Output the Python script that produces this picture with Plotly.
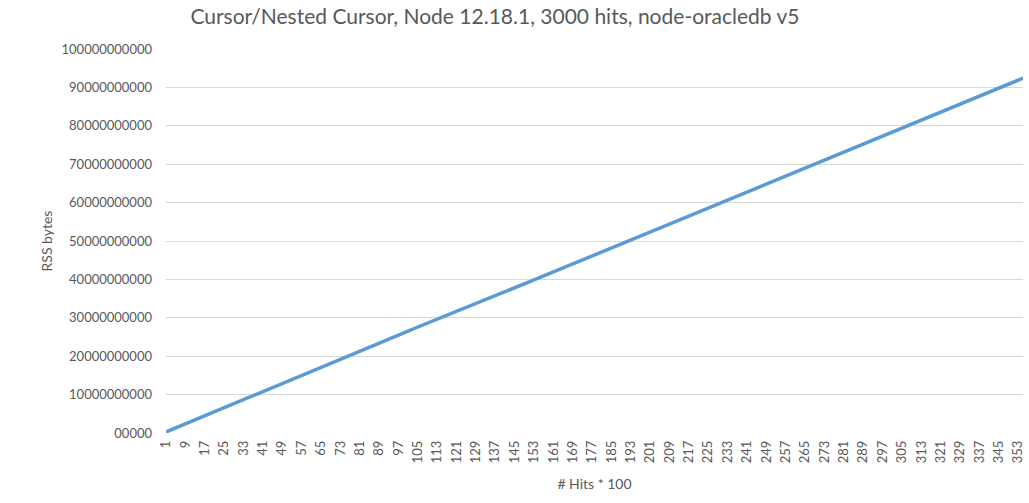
import plotly.graph_objects as go

TITLE = "Cursor/Nested Cursor, Node 12.18.1, 3000 hits, node-oracledb v5"
X_TITLE = "# Hits * 100"
Y_TITLE = "RSS bytes"

# x categories: hits / 100
hits = list(range(1, 356))

# RSS, in units of 1e9 bytes
rss_gb = [
    0.26, 0.52, 0.79, 1.05, 1.31, 1.57, 1.84, 2.10, 2.36, 2.63,
    2.89, 3.15, 3.41, 3.68, 3.94, 4.20, 4.47, 4.73, 4.99, 5.26,
    5.52, 5.78, 6.04, 6.31, 6.57, 6.83, 7.10, 7.36, 7.62, 7.88,
    8.15, 8.41, 8.67, 8.94, 9.20, 9.46, 9.72, 9.99, 10.25, 10.51,
    10.78, 11.04, 11.30, 11.56, 11.83, 12.09, 12.35, 12.62, 12.88, 13.14,
    13.41, 13.67, 13.93, 14.19, 14.46, 14.72, 14.98, 15.25, 15.51, 15.77,
    16.03, 16.30, 16.56, 16.82, 17.09, 17.35, 17.61, 17.87, 18.14, 18.40,
    18.66, 18.93, 19.19, 19.45, 19.71, 19.98, 20.24, 20.50, 20.77, 21.03,
    21.29, 21.55, 21.82, 22.08, 22.34, 22.61, 22.87, 23.13, 23.40, 23.66,
    23.92, 24.18, 24.45, 24.71, 24.97, 25.24, 25.50, 25.76, 26.02, 26.29,
    26.55, 26.81, 27.08, 27.34, 27.60, 27.72, 27.90,
    28.16, 28.42, 28.68, 28.94, 29.20, 29.46, 29.72, 29.98, 30.24, 30.50,
    30.76, 31.02, 31.28, 31.54, 31.80, 32.06, 32.32, 32.58, 32.84, 33.10,
    33.36, 33.62, 33.88, 34.14, 34.40, 34.66, 34.92, 35.18, 35.44, 35.70,
    35.96, 36.22, 36.48, 36.74, 37.00, 37.26, 37.52, 37.78, 38.04, 38.30,
    38.56, 38.82, 39.08, 39.34, 39.60, 39.86, 40.12, 40.38, 40.64, 40.91,
    41.17, 41.43, 41.69, 41.95, 42.21, 42.47, 42.73, 42.99, 43.25, 43.51,
    43.77, 44.03, 44.29, 44.55, 44.81, 45.07, 45.33, 45.59, 45.85, 46.11,
    46.37, 46.63, 46.89, 47.15, 47.41, 47.67, 47.93, 48.19, 48.45, 48.71,
    48.97, 49.23, 49.49, 49.75, 50.01, 50.27, 50.53, 50.79, 51.05, 51.31,
    51.57, 51.83, 52.09, 52.35, 52.61, 52.87, 53.13, 53.39, 53.65, 53.91,
    54.17, 54.43, 54.69, 54.95, 55.21, 55.47, 55.73, 55.99, 56.25, 56.51,
    56.77, 57.03, 57.29, 57.55, 57.81, 58.07, 58.33, 58.59, 58.85, 59.11,
    59.37, 59.63, 59.89, 60.15, 60.41, 60.67, 60.93, 61.19, 61.45, 61.71,
    61.97, 62.23, 62.49, 62.75, 63.01, 63.27, 63.53, 63.79, 64.05, 64.31,
    64.57, 64.83, 65.09, 65.35, 65.61, 65.87, 66.13, 66.39, 66.65, 66.92,
    67.18, 67.44, 67.70, 67.96, 68.22, 68.48, 68.74, 69.00, 69.26, 69.52,
    69.78, 70.04, 70.30, 70.56, 70.82, 71.08, 71.34, 71.60, 71.86, 72.12,
    72.38, 72.64, 72.90, 73.16, 73.42, 73.68, 73.94, 74.20, 74.46, 74.72,
    74.98, 75.24, 75.50, 75.76, 76.02, 76.28, 76.54, 76.80, 77.06, 77.32,
    77.58, 77.84, 78.10, 78.36, 78.62, 78.88, 79.14, 79.40, 79.66, 79.92,
    80.18, 80.44, 80.70, 80.96, 81.22, 81.48, 81.74, 82.00, 82.26, 82.52,
    82.78, 83.04, 83.30, 83.56, 83.82, 84.08, 84.34, 84.60, 84.86, 85.12,
    85.38, 85.64, 85.90, 86.16, 86.42, 86.68, 86.94, 87.20, 87.46, 87.72,
    87.98, 88.24, 88.50, 88.76, 89.02, 89.28, 89.54, 89.80, 90.06, 90.32,
    90.58, 90.84, 91.10, 91.36, 91.62, 91.88, 92.14, 92.40,
]

# y axis ticks as Excel printed them (zero shows as "00000")
y_tickvals = [0, 1e10, 2e10, 3e10, 4e10, 5e10, 6e10, 7e10, 8e10, 9e10, 1e11]
y_ticktext = [
    "00000", "10000000000", "20000000000", "30000000000", "40000000000",
    "50000000000", "60000000000", "70000000000", "80000000000",
    "90000000000", "100000000000",
]

TEXT_COLOR = "#595959"
FONT = "Lato"

rss_bytes = [v * 1e9 for v in rss_gb]

fig = go.Figure()
fig.add_trace(
    go.Scatter(
        x=hits,
        y=rss_bytes,
        mode="lines",
        line={"color": "#5B9BD5", "width": 3.5},
        showlegend=False,
    )
)

fig.update_layout(
    width=1029,
    height=503,
    paper_bgcolor="white",
    plot_bgcolor="white",
    margin={"l": 166, "r": 6, "t": 49, "b": 70, "autoexpand": False},
    font={"family": FONT, "color": TEXT_COLOR, "size": 13},
    title={
        "text": TITLE,
        "x": 0.481,
        "xanchor": "center",
        "y": 0.966,
        "yanchor": "middle",
        "font": {"size": 21, "color": TEXT_COLOR},
    },
)
fig.update_xaxes(
    range=[1, 355],
    tick0=1,
    dtick=8,
    tickangle=-90,
    showgrid=False,
    zeroline=False,
    showline=False,
    ticks="",
    ticklabelstandoff=4,
    title={"text": X_TITLE, "font": {"size": 14}, "standoff": 16},
)
fig.update_yaxes(
    range=[0, 1e11],
    tickvals=y_tickvals,
    ticktext=y_ticktext,
    showgrid=True,
    gridcolor="#D9D9D9",
    gridwidth=1,
    zeroline=False,
    showline=False,
    ticks="",
    ticklabelstandoff=13,
    title={"text": Y_TITLE, "font": {"size": 14}, "standoff": 5},
)

# drop the default body margin so the figure sits at the page corner
fig.write_html(
    "out.html",
    config={"displayModeBar": False},
    post_script="document.body.style.margin = '0';",
)
